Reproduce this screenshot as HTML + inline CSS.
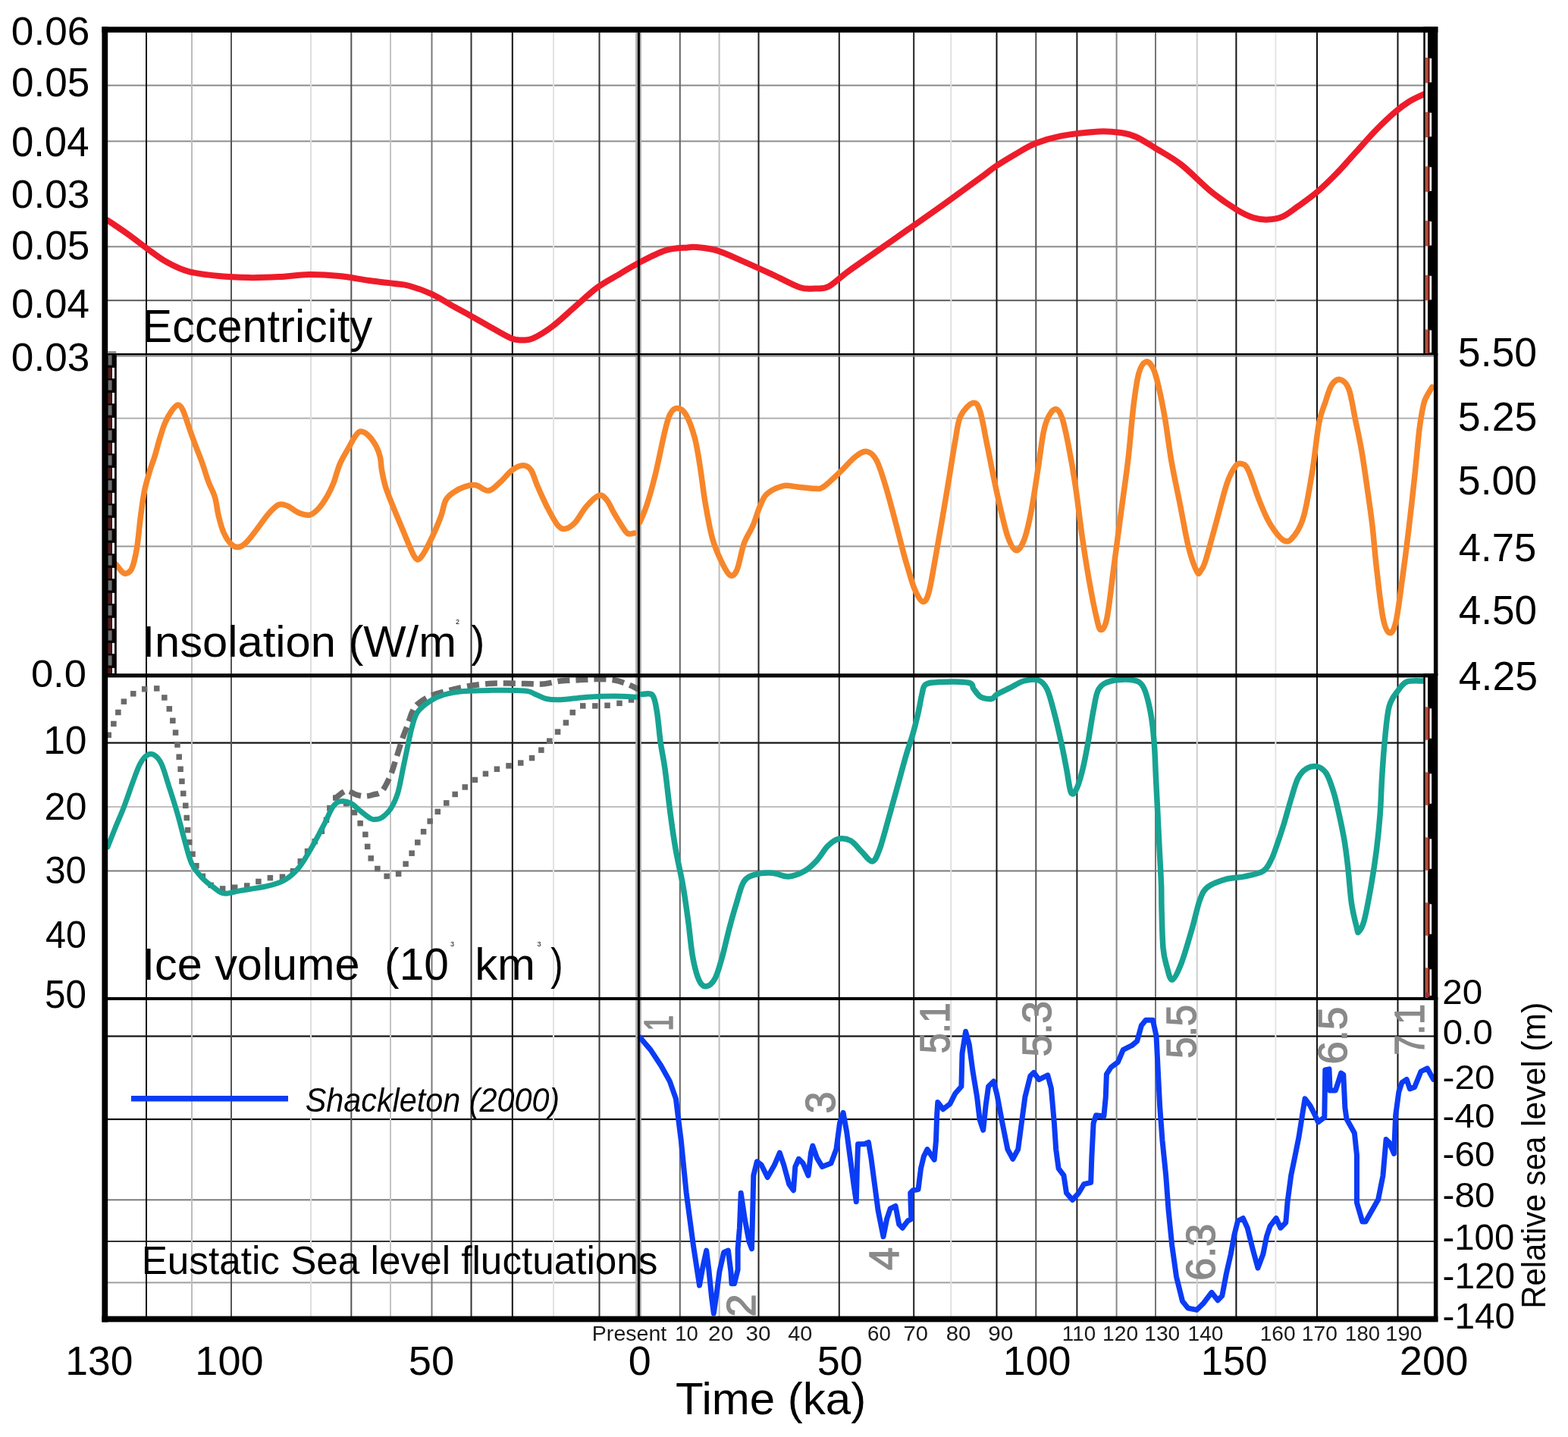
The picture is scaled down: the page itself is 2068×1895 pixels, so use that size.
<!DOCTYPE html><html><head><meta charset="utf-8"><title>Orbital forcing, ice volume and sea level</title><style>html,body{margin:0;padding:0;background:#fff;}svg{display:block;}text{font-family:"Liberation Sans",Arial,sans-serif;}</style></head><body>
<svg width="2068" height="1895" viewBox="0 0 2068 1895">
<rect width="2068" height="1895" fill="#fff"/>
<rect x="142" y="111.6" width="1736" height="2" fill="#8a8a8a"/>
<rect x="142" y="185.3" width="1736" height="2" fill="#8f8f8f"/>
<rect x="142" y="324.3" width="1736" height="2" fill="#8a8a8a"/>
<rect x="142" y="395.2" width="1736" height="2" fill="#5a5a5a"/>
<rect x="153" y="550.6" width="1738" height="2" fill="#b0b0b0"/>
<rect x="153" y="719.5" width="1738" height="2" fill="#989898"/>
<rect x="142" y="978.5" width="1736" height="2.2" fill="#111"/>
<rect x="142" y="1063" width="1736" height="2" fill="#c0c0c0"/>
<rect x="142" y="1147.5" width="1736" height="2" fill="#7a7a7a"/>
<rect x="142" y="1365.4" width="1749" height="2.2" fill="#111"/>
<rect x="142" y="1474.9" width="1749" height="2.2" fill="#111"/>
<rect x="142" y="1581.3" width="1749" height="2" fill="#7a7a7a"/>
<rect x="142" y="1636" width="1749" height="2" fill="#333"/>
<rect x="142" y="1690.4" width="1749" height="2" fill="#a0a0a0"/>
<rect x="192" y="43" width="2" height="1693" fill="#111"/>
<rect x="252" y="43" width="2" height="1693" fill="#bdbdbd"/>
<rect x="304" y="43" width="2" height="1693" fill="#555"/>
<rect x="409" y="43" width="2" height="1693" fill="#dedede"/>
<rect x="462.3" y="43" width="2" height="1693" fill="#555"/>
<rect x="514" y="43" width="2" height="1693" fill="#c4c4c4"/>
<rect x="568.5" y="43" width="2" height="1693" fill="#7a7a7a"/>
<rect x="620.5" y="43" width="2" height="1693" fill="#333"/>
<rect x="674.8" y="43" width="2" height="1693" fill="#151515"/>
<rect x="729" y="43" width="2" height="1693" fill="#e2e2e2"/>
<rect x="789.5" y="43" width="2" height="1693" fill="#333"/>
<rect x="895.8" y="43" width="2" height="1693" fill="#666"/>
<rect x="947.6" y="43" width="2" height="1693" fill="#bdbdbd"/>
<rect x="999.5" y="43" width="2" height="1693" fill="#222"/>
<rect x="1105.8" y="43" width="2" height="1693" fill="#222"/>
<rect x="1204.2" y="43" width="2" height="1693" fill="#222"/>
<rect x="1253.2" y="43" width="2" height="1693" fill="#e0e0e0"/>
<rect x="1313.5" y="43" width="2" height="1693" fill="#111"/>
<rect x="1365.3" y="43" width="2" height="1693" fill="#555"/>
<rect x="1419.4" y="43" width="2" height="1693" fill="#222"/>
<rect x="1471.6" y="43" width="2" height="1693" fill="#888"/>
<rect x="1523" y="43" width="2" height="1693" fill="#777"/>
<rect x="1577.8" y="43" width="2" height="1693" fill="#cfcfcf"/>
<rect x="1629.4" y="43" width="2" height="1693" fill="#111"/>
<rect x="1681.4" y="43" width="2" height="1693" fill="#e4e4e4"/>
<rect x="1736" y="43" width="2" height="1693" fill="#111"/>
<rect x="1842.5" y="43" width="2" height="1693" fill="#111"/>
<rect x="838.2" y="43" width="7.6" height="1693" fill="#ababab"/>
<g fill="none" stroke-linejoin="round" stroke-linecap="round">
<path d="M142.3,290.7 C146.87,293.83 161.17,303.38 169.7,309.5 C178.23,315.62 185.23,321.45 193.5,327.4 C201.77,333.35 210.05,340.08 219.3,345.2 C228.55,350.32 237.43,354.95 249,358.1 C260.57,361.25 275.47,362.77 288.7,364.1 C301.93,365.43 315.18,365.93 328.4,366.1 C341.62,366.27 354.77,365.77 368,365.1 C381.23,364.43 394.55,362.27 407.8,362.1 C421.05,361.93 434.28,362.78 447.5,364.1 C460.72,365.42 475.02,368.35 487.1,370 C499.18,371.65 511.22,372.83 520,374 C528.78,375.17 531.53,374.68 539.8,377 C548.07,379.32 559.67,383.27 569.6,387.9 C579.53,392.53 590.8,400 599.4,404.8 C608,409.6 612.93,412.08 621.2,416.7 C629.47,421.32 640.07,427.55 649,432.5 C657.93,437.45 668.18,443.75 674.8,446.4 C681.42,449.05 684.08,448.4 688.7,448.4 C693.32,448.4 695.9,449.37 702.5,446.4 C709.1,443.43 719.05,437.53 728.3,430.6 C737.55,423.67 748.07,413.4 758,404.8 C767.93,396.2 777.97,386.28 787.9,379 C797.83,371.72 808.68,366.4 817.6,361.1 C826.52,355.8 831.48,352.32 841.4,347.2 C851.32,342.08 866.18,333.87 877.1,330.4 C888.02,326.93 899.95,327.13 906.9,326.4 C913.85,325.67 912.35,325.33 918.8,326 C925.25,326.67 935.5,327.35 945.6,330.4 C955.7,333.45 967.17,339.02 979.4,344.3 C991.63,349.58 1006.43,356.32 1019,362.1 C1031.57,367.88 1045.53,375.95 1054.8,379 C1064.07,382.05 1068.32,380.57 1074.6,380.4 C1080.88,380.23 1085.22,381.7 1092.5,378 C1099.78,374.3 1107.38,366.13 1118.3,358.2 C1129.22,350.27 1144.78,339.67 1158,330.4 C1171.22,321.13 1184.38,311.87 1197.6,302.6 C1210.82,293.33 1224.07,284.23 1237.3,274.8 C1250.53,265.37 1266.75,253.43 1277,246 C1287.25,238.57 1292.68,234.7 1298.8,230.2 C1304.92,225.7 1306.92,223.5 1313.7,219 C1320.48,214.5 1330.9,208.15 1339.5,203.2 C1348.1,198.25 1355.38,193.27 1365.3,189.3 C1375.22,185.33 1385.1,182.05 1399,179.4 C1412.9,176.75 1435.47,174.13 1448.7,173.4 C1461.93,172.67 1470.13,173.82 1478.4,175 C1486.67,176.18 1490.7,177.08 1498.3,180.5 C1505.9,183.92 1514.08,189.42 1524,195.5 C1533.92,201.58 1545.55,207.45 1557.8,217 C1570.05,226.55 1585.27,242.87 1597.5,252.8 C1609.73,262.73 1621.97,270.9 1631.2,276.6 C1640.43,282.3 1646.07,284.83 1652.9,287 C1659.73,289.17 1665.75,289.82 1672.2,289.6 C1678.65,289.38 1685.15,288.5 1691.6,285.7 C1698.05,282.9 1703.38,278.17 1710.9,272.8 C1718.42,267.43 1728.1,260.8 1736.7,253.5 C1745.3,246.2 1753.9,237.82 1762.5,229 C1771.1,220.18 1779.7,210.07 1788.3,200.6 C1796.9,191.13 1805.5,181.02 1814.1,172.2 C1822.7,163.38 1832.38,154.15 1839.9,147.7 C1847.42,141.25 1852.97,137.37 1859.2,133.5 C1865.43,129.63 1874.28,126 1877.3,124.5" stroke="#ee1c2a" stroke-width="8"/>
<path d="M145,738 C146.42,739.17 151,742.5 153.5,745 C156,747.5 158.03,751.08 160,753 C161.97,754.92 163.02,757 165.3,756.5 C167.58,756 171.17,755.58 173.7,750 C176.23,744.42 178.53,734.53 180.5,723 C182.47,711.47 183.82,693.45 185.5,680.8 C187.18,668.15 188.63,656.93 190.6,647.1 C192.57,637.27 195.05,629.38 197.3,621.8 C199.55,614.22 201.85,608.92 204.1,601.6 C206.35,594.28 208.55,585.22 210.8,577.9 C213.05,570.58 215.07,563.6 217.6,557.7 C220.13,551.8 223.18,546.43 226,542.5 C228.82,538.57 231.97,534.38 234.5,534.1 C237.03,533.82 238.68,535.73 241.2,540.8 C243.72,545.87 246.78,556.62 249.6,564.5 C252.42,572.38 255.28,580.52 258.1,588.1 C260.92,595.68 263.7,602.13 266.5,610 C269.3,617.87 272.08,627.72 274.9,635.3 C277.72,642.88 281.15,647.92 283.4,655.5 C285.65,663.08 286.43,672.92 288.4,680.8 C290.37,688.68 292.38,696.62 295.2,702.8 C298.02,708.98 301.93,714.82 305.3,717.9 C308.67,720.98 312.03,721.85 315.4,721.3 C318.77,720.75 321.57,718.53 325.5,714.6 C329.43,710.67 334.22,703.88 339,697.7 C343.78,691.52 349.42,682.85 354.2,677.5 C358.98,672.15 363.48,667.3 367.7,665.6 C371.92,663.9 375.28,665.6 379.5,667.3 C383.72,669 388.22,673.83 393,675.8 C397.78,677.77 403.7,679.95 408.2,679.1 C412.7,678.25 416.07,674.92 420,670.7 C423.93,666.48 428.47,659.47 431.8,653.8 C435.13,648.13 437.25,643.72 440,636.7 C442.75,629.68 444.83,619.68 448.3,611.7 C451.77,603.72 457.52,594.75 460.8,588.8 C464.08,582.85 465.57,579.3 468,576 C470.43,572.7 472.43,569.3 475.4,569 C478.37,568.7 482.32,570.9 485.8,574.2 C489.28,577.5 493.68,583.95 496.3,588.8 C498.92,593.65 500.3,598.1 501.5,603.3 C502.7,608.5 502.28,613.4 503.5,620 C504.72,626.6 506.18,634.57 508.8,642.9 C511.42,651.23 515.73,661.32 519.2,670 C522.67,678.68 526.13,686.67 529.6,695 C533.07,703.33 537.27,713.67 540,720 C542.73,726.33 544.27,730 546,733 C547.73,736 548.9,737.67 550.4,738 C551.9,738.33 553.27,736.95 555,735 C556.73,733.05 558.08,731.23 560.8,726.3 C563.52,721.37 567.82,713.05 571.3,705.4 C574.78,697.75 578.93,688.03 581.7,680.4 C584.47,672.77 585.13,664.8 587.9,659.6 C590.67,654.4 594.13,652.15 598.3,649.2 C602.47,646.25 608.03,643.47 612.9,641.9 C617.77,640.33 622.28,638.93 627.5,639.8 C632.72,640.67 638.98,647.62 644.2,647.1 C649.42,646.58 653.6,641.22 658.8,636.7 C664,632.18 670.2,623.82 675.4,620 C680.6,616.18 685.83,613.8 690,613.8 C694.17,613.8 697.27,615.5 700.4,620 C703.53,624.5 705.32,632.82 708.8,640.8 C712.28,648.78 716.8,659.22 721.3,667.9 C725.8,676.58 731.63,688.03 735.8,692.9 C739.97,697.77 742.47,697.78 746.3,697.1 C750.13,696.42 754.3,693.67 758.8,688.8 C763.3,683.93 768.1,673.82 773.3,667.9 C778.5,661.98 785.48,654.68 790,653.3 C794.52,651.92 796.93,655.43 800.4,659.6 C803.87,663.77 806.63,671.35 810.8,678.3 C814.97,685.25 822.03,697.02 825.4,701.3 C828.77,705.58 829.2,703.72 831,704 C832.8,704.28 835.33,703.17 836.2,703" stroke="#f7862a" stroke-width="7.5"/>
<path d="M844,688.5 C845.55,684.62 849.82,676.07 853.3,665.2 C856.78,654.33 861.02,639.2 864.9,623.3 C868.78,607.4 873.48,582.6 876.6,569.8 C879.72,557 880.88,551.75 883.6,546.5 C886.32,541.25 889.42,538.3 892.9,538.3 C896.38,538.3 900.63,540.08 904.5,546.5 C908.37,552.92 913,565.55 916.1,576.8 C919.2,588.05 920.77,599.65 923.1,614 C925.43,628.35 927.38,646.98 930.1,662.9 C932.82,678.82 935.9,696.7 939.4,709.5 C942.9,722.3 947.22,731.55 951.1,739.7 C954.98,747.85 959.22,756.45 962.7,758.4 C966.18,760.35 968.9,758.38 972,751.4 C975.1,744.42 977.8,726.2 981.3,716.5 C984.8,706.8 989.5,701.35 993,693.2 C996.5,685.05 999.2,674.58 1002.3,667.6 C1005.4,660.62 1006.55,655.77 1011.6,651.3 C1016.65,646.83 1026,642.35 1032.6,640.8 C1039.2,639.25 1044.22,641.42 1051.2,642 C1058.18,642.58 1068.68,644.3 1074.5,644.3 C1080.32,644.3 1080.67,645.5 1086.1,642 C1091.53,638.5 1100.12,629.9 1107.1,623.3 C1114.08,616.7 1121.98,607.05 1128,602.4 C1134.02,597.75 1138.53,594.63 1143.2,595.4 C1147.87,596.17 1151.93,599.63 1156,607 C1160.07,614.37 1163.73,627.18 1167.6,639.6 C1171.47,652.02 1175.38,667.27 1179.2,681.5 C1183.02,695.73 1187.53,713.92 1190.5,725 C1193.47,736.08 1194.37,739.33 1197,748 C1199.63,756.67 1203,769.45 1206.3,777 C1209.6,784.55 1213.7,792.53 1216.8,793.3 C1219.9,794.07 1222,791.68 1224.9,781.6 C1227.8,771.52 1231.08,749.87 1234.2,732.8 C1237.32,715.73 1240.48,697.45 1243.6,679.2 C1246.72,660.95 1250.2,639.6 1252.9,623.3 C1255.6,607 1257.48,593.82 1259.8,581.4 C1262.12,568.98 1262.92,557.13 1266.8,548.8 C1270.68,540.47 1278.83,532.57 1283.1,531.4 C1287.37,530.23 1289.28,532.68 1292.4,541.8 C1295.52,550.92 1298.68,570.97 1301.8,586.1 C1304.92,601.23 1308,617.87 1311.1,632.6 C1314.2,647.33 1317.3,661.68 1320.4,674.5 C1323.5,687.32 1326.4,700.95 1329.7,709.5 C1333,718.05 1336.7,725.42 1340.2,725.8 C1343.7,726.18 1347.4,720.35 1350.7,711.8 C1354,703.25 1356.9,690.42 1360,674.5 C1363.1,658.58 1366.58,633.75 1369.3,616.3 C1372.02,598.85 1373.98,581.05 1376.3,569.8 C1378.62,558.55 1380.48,553.85 1383.2,548.8 C1385.92,543.75 1389.68,539.12 1392.6,539.5 C1395.52,539.88 1397.98,543.33 1400.7,551.1 C1403.42,558.87 1405.98,571.35 1408.9,586.1 C1411.82,600.85 1415.1,619.03 1418.2,639.6 C1421.3,660.17 1424.4,688.15 1427.5,709.5 C1430.6,730.85 1433.7,750.25 1436.8,767.7 C1439.9,785.15 1443.58,803.73 1446.1,814.2 C1448.62,824.67 1449.57,830.5 1451.9,830.5 C1454.23,830.5 1457.18,828.55 1460.1,814.2 C1463.02,799.85 1466.3,767.68 1469.4,744.4 C1472.5,721.12 1475.6,697.78 1478.7,674.5 C1481.8,651.22 1485.28,627.98 1488,604.7 C1490.72,581.42 1492.67,553.58 1495,534.8 C1497.33,516.02 1499.25,501.63 1502,492 C1504.75,482.37 1508.33,478 1511.5,477 C1514.67,476 1518.22,480.43 1521,486 C1523.78,491.57 1525.6,499.28 1528.2,510.4 C1530.8,521.52 1533.78,536.27 1536.6,552.7 C1539.42,569.13 1541.8,590.22 1545.1,609 C1548.4,627.78 1552.65,646.6 1556.4,665.4 C1560.15,684.2 1563.85,707 1567.6,721.8 C1571.35,736.6 1576.17,749.17 1578.9,754.2 C1581.63,759.23 1582.12,754.6 1584,752 C1585.88,749.4 1586.82,749.28 1590.2,738.6 C1593.58,727.92 1599.62,704.8 1604.3,687.9 C1608.98,671 1614.08,649.42 1618.3,637.2 C1622.52,624.98 1626.32,618.83 1629.6,614.6 C1632.88,610.37 1635.18,610.85 1638,611.8 C1640.82,612.75 1642.65,612.17 1646.5,620.3 C1650.35,628.43 1656.33,648.83 1661.1,660.6 C1665.87,672.37 1669.55,682.12 1675.1,690.9 C1680.65,699.68 1688.92,710.95 1694.4,713.3 C1699.88,715.65 1703.77,710.63 1708,705 C1712.23,699.37 1715.97,693.62 1719.8,679.5 C1723.63,665.38 1727.72,640.5 1731,620.3 C1734.28,600.1 1736.67,573.32 1739.5,558.3 C1742.33,543.28 1745.18,538.65 1748,530.2 C1750.82,521.75 1753.12,512.53 1756.4,507.6 C1759.68,502.67 1763.93,499.65 1767.7,500.6 C1771.47,501.55 1775.72,504.62 1779,513.3 C1782.28,521.98 1784.58,539.08 1787.4,552.7 C1790.22,566.32 1793.08,578.57 1795.9,595 C1798.72,611.43 1801.95,634.87 1804.3,651.3 C1806.65,667.73 1808.12,677.17 1810,693.6 C1811.88,710.03 1813.27,729.7 1815.6,749.9 C1817.93,770.1 1821.18,800.7 1824,814.8 C1826.82,828.9 1829.68,833.57 1832.5,834.5 C1835.32,835.43 1838.08,832.15 1840.9,820.4 C1843.72,808.65 1846.58,784.2 1849.4,764 C1852.22,743.8 1854.98,722.68 1857.8,699.2 C1860.62,675.72 1863.95,645.17 1866.3,623.1 C1868.65,601.03 1870.02,581.82 1871.9,566.8 C1873.78,551.78 1875.92,540.47 1877.6,533 C1879.28,525.53 1880.13,525.77 1882,522 C1883.87,518.23 1887.67,512.33 1888.8,510.4" stroke="#f7862a" stroke-width="7.5"/>
</g>
<g fill="#6a6a6a"><rect x="139.5" y="965.52" width="7.5" height="7.5"/><rect x="146.12" y="950.74" width="7.5" height="7.5"/><rect x="152.11" y="935.69" width="7.5" height="7.5"/><rect x="159.62" y="921.4" width="7.5" height="7.5"/><rect x="172.02" y="911.08" width="7.5" height="7.5"/><rect x="186.95" y="904.97" width="7.5" height="7.5"/><rect x="202.99" y="904.14" width="7.5" height="7.5"/><rect x="213.11" y="916.2" width="7.5" height="7.5"/><rect x="219.57" y="931.03" width="7.5" height="7.5"/><rect x="224.09" y="946.58" width="7.5" height="7.5"/><rect x="227.8" y="962.34" width="7.5" height="7.5"/><rect x="230.2" y="978.36" width="7.5" height="7.5"/><rect x="232.47" y="994.4" width="7.5" height="7.5"/><rect x="234.36" y="1010.49" width="7.5" height="7.5"/><rect x="236.17" y="1026.59" width="7.5" height="7.5"/><rect x="238.02" y="1042.68" width="7.5" height="7.5"/><rect x="241.01" y="1058.6" width="7.5" height="7.5"/><rect x="242.48" y="1074.73" width="7.5" height="7.5"/><rect x="243.89" y="1090.87" width="7.5" height="7.5"/><rect x="245.97" y="1106.93" width="7.5" height="7.5"/><rect x="250.25" y="1122.54" width="7.5" height="7.5"/><rect x="255.13" y="1137.98" width="7.5" height="7.5"/><rect x="263.58" y="1151.74" width="7.5" height="7.5"/><rect x="274.5" y="1163.63" width="7.5" height="7.5"/><rect x="289.88" y="1168.18" width="7.5" height="7.5"/><rect x="305.91" y="1166.51" width="7.5" height="7.5"/><rect x="321.95" y="1164.28" width="7.5" height="7.5"/><rect x="337.15" y="1158.74" width="7.5" height="7.5"/><rect x="352.61" y="1153.94" width="7.5" height="7.5"/><rect x="368.72" y="1152.56" width="7.5" height="7.5"/><rect x="382.77" y="1144.95" width="7.5" height="7.5"/><rect x="392.52" y="1132.09" width="7.5" height="7.5"/><rect x="401.76" y="1118.78" width="7.5" height="7.5"/><rect x="411.49" y="1105.83" width="7.5" height="7.5"/><rect x="420.61" y="1092.45" width="7.5" height="7.5"/><rect x="426.73" y="1077.51" width="7.5" height="7.5"/><rect x="431.09" y="1061.91" width="7.5" height="7.5"/><rect x="439" y="1048.32" width="7.5" height="7.5"/><rect x="452.81" y="1055.84" width="7.5" height="7.5"/><rect x="463.71" y="1067.73" width="7.5" height="7.5"/><rect x="471.39" y="1081.98" width="7.5" height="7.5"/><rect x="478.12" y="1096.68" width="7.5" height="7.5"/><rect x="480.93" y="1112.63" width="7.5" height="7.5"/><rect x="485.46" y="1128.15" width="7.5" height="7.5"/><rect x="494.11" y="1141.79" width="7.5" height="7.5"/><rect x="506.4" y="1151.72" width="7.5" height="7.5"/><rect x="521.85" y="1148.57" width="7.5" height="7.5"/><rect x="531.34" y="1135.52" width="7.5" height="7.5"/><rect x="539.37" y="1121.45" width="7.5" height="7.5"/><rect x="547.04" y="1107.18" width="7.5" height="7.5"/><rect x="554.82" y="1092.97" width="7.5" height="7.5"/><rect x="563.39" y="1079.23" width="7.5" height="7.5"/><rect x="573.52" y="1066.61" width="7.5" height="7.5"/><rect x="585.01" y="1055.19" width="7.5" height="7.5"/><rect x="596.42" y="1043.69" width="7.5" height="7.5"/><rect x="609.54" y="1034.21" width="7.5" height="7.5"/><rect x="622.65" y="1024.69" width="7.5" height="7.5"/><rect x="636.69" y="1016.63" width="7.5" height="7.5"/><rect x="651.66" y="1010.47" width="7.5" height="7.5"/><rect x="667.25" y="1006.1" width="7.5" height="7.5"/><rect x="683" y="1002.34" width="7.5" height="7.5"/><rect x="697.79" y="995.86" width="7.5" height="7.5"/><rect x="710.13" y="985.4" width="7.5" height="7.5"/><rect x="721.02" y="973.41" width="7.5" height="7.5"/><rect x="731.84" y="961.36" width="7.5" height="7.5"/><rect x="742.64" y="949.29" width="7.5" height="7.5"/><rect x="751.5" y="935.82" width="7.5" height="7.5"/><rect x="765" y="927.11" width="7.5" height="7.5"/><rect x="781.11" y="927.15" width="7.5" height="7.5"/><rect x="797.29" y="926.51" width="7.5" height="7.5"/><rect x="813.22" y="923.63" width="7.5" height="7.5"/><rect x="828.81" y="919.23" width="7.5" height="7.5"/></g>
<g fill="none" stroke-linejoin="round" stroke-linecap="round">
<path d="M441,1054 C442.83,1052.5 449,1046.83 452,1045 C455,1043.17 456,1042.5 459,1043 C462,1043.5 466.25,1046.83 470,1048 C473.75,1049.17 477.83,1050 481.5,1050 C485.17,1050 488.25,1049.17 492,1048 C495.75,1046.83 500.12,1047.4 504,1043 C507.88,1038.6 512.23,1028.7 515.3,1021.6 C518.37,1014.5 519.85,1008.25 522.4,1000.4 C524.95,992.55 528.05,981.95 530.6,974.5 C533.15,967.05 535.53,961.58 537.7,955.7 C539.87,949.82 541.43,943.72 543.6,939.2 C545.77,934.68 546.77,932.13 550.7,928.6 C554.63,925.07 560.53,920.95 567.2,918 C573.87,915.05 582.47,913.07 590.7,910.9 C598.93,908.73 607.57,906.57 616.6,905 C625.63,903.43 636.25,902.17 644.9,901.5 C653.55,900.83 660.65,901 668.5,901 C676.35,901 684.15,901.33 692,901.5 C699.85,901.67 707.75,902.58 715.6,902 C723.45,901.42 731.25,898.87 739.1,898 C746.95,897.13 754.85,897.2 762.7,896.8 C770.55,896.4 778.35,895.6 786.2,895.6 C794.05,895.6 802.73,895.62 809.8,896.8 C816.87,897.98 823.23,900.67 828.6,902.7 C833.97,904.73 839.77,907.95 842,909" stroke="#6a6a6a" stroke-width="7.5" stroke-dasharray="16 8" stroke-linecap="butt"/>
<path d="M142,1117 C143.63,1112.87 148.22,1101.03 151.8,1092.2 C155.38,1083.37 159.58,1074.2 163.5,1064 C167.42,1053.8 171.77,1040.43 175.3,1031 C178.83,1021.57 181.55,1013.28 184.7,1007.4 C187.85,1001.52 191.05,997.65 194.2,995.7 C197.35,993.75 200.47,993.75 203.6,995.7 C206.73,997.65 209.87,1000.73 213,1007.4 C216.13,1014.07 218.87,1024.7 222.4,1035.7 C225.93,1046.7 230.67,1061.23 234.2,1073.4 C237.73,1085.57 240.47,1097.72 243.6,1108.7 C246.73,1119.68 249.08,1131.07 253,1139.3 C256.92,1147.53 262.38,1153 267.1,1158.1 C271.82,1163.2 276.58,1166.57 281.3,1169.9 C286.02,1173.23 289.52,1177.32 295.4,1178.1 C301.28,1178.88 307.18,1176.17 316.6,1174.6 C326.02,1173.03 342.08,1171.05 351.9,1168.7 C361.72,1166.35 368.43,1164.62 375.5,1160.5 C382.57,1156.38 388.42,1151.07 394.3,1144 C400.18,1136.93 405.3,1127.52 410.8,1118.1 C416.3,1108.68 422.6,1096.52 427.3,1087.5 C432,1078.48 435.47,1069.1 439,1064 C442.53,1058.9 444.57,1057.7 448.5,1056.9 C452.43,1056.1 458.28,1057.23 462.6,1059.2 C466.92,1061.17 470.08,1065.35 474.4,1068.7 C478.72,1072.05 485.07,1077.33 488.5,1079.3 C491.93,1081.27 492.48,1080.68 495,1080.5 C497.52,1080.32 500.22,1080.55 503.6,1078.2 C506.98,1075.85 511.77,1071.9 515.3,1066.4 C518.83,1060.9 522.05,1054.23 524.8,1045.2 C527.55,1036.17 529.65,1022.42 531.8,1012.2 C533.95,1001.98 535.73,992.93 537.7,983.9 C539.67,974.87 541.43,965.48 543.6,958 C545.77,950.52 546.77,944.58 550.7,939 C554.63,933.42 561.32,928.33 567.2,924.5 C573.08,920.67 578.55,918.17 586,916 C593.45,913.83 602.08,912.43 611.9,911.5 C621.72,910.57 631.55,910.5 644.9,910.4 C658.25,910.3 681.8,910.03 692,910.9 C702.2,911.77 701.38,913.83 706.1,915.6 C710.82,917.37 714.8,920.32 720.3,921.5 C725.8,922.68 730.07,923.08 739.1,922.7 C748.13,922.32 762.72,919.98 774.5,919.2 C786.28,918.42 798.82,918 809.8,918 C820.78,918 835.3,919 840.4,919.2" stroke="#17a392" stroke-width="7"/>
<path d="M846.5,915.6 C848.85,915.8 857.27,912.87 860.6,916.8 C863.93,920.73 864.73,928.8 866.5,939.2 C868.27,949.6 869.43,966.63 871.2,979.2 C872.97,991.77 874.93,998.88 877.1,1014.6 C879.27,1030.32 881.85,1055.83 884.2,1073.5 C886.55,1091.17 888.45,1104.9 891.2,1120.6 C893.95,1136.3 897.95,1152 900.7,1167.7 C903.45,1183.4 905.55,1199.1 907.7,1214.8 C909.85,1230.5 911.23,1248.95 913.6,1261.9 C915.97,1274.85 918.95,1286.02 921.9,1292.5 C924.85,1298.98 927.77,1301.18 931.3,1300.8 C934.83,1300.42 939.57,1296.68 943.1,1290.2 C946.63,1283.72 949.37,1272.9 952.5,1261.9 C955.63,1250.9 958.77,1235.98 961.9,1224.2 C965.03,1212.42 968.15,1201.4 971.3,1191.2 C974.45,1181 976.87,1169.27 980.8,1163 C984.73,1156.73 988.62,1155.57 994.9,1153.6 C1001.18,1151.63 1011.03,1150.82 1018.5,1151.2 C1025.97,1151.58 1032.63,1156.3 1039.7,1155.9 C1046.77,1155.5 1054.63,1152.33 1060.9,1148.8 C1067.17,1145.27 1072.2,1140.18 1077.3,1134.7 C1082.4,1129.22 1086.78,1120.62 1091.5,1115.9 C1096.22,1111.18 1100.5,1107.58 1105.6,1106.4 C1110.7,1105.22 1117,1106.05 1122.1,1108.8 C1127.2,1111.55 1131.48,1118.38 1136.2,1122.9 C1140.92,1127.42 1146.47,1136.28 1150.4,1135.9 C1154.33,1135.52 1156.27,1129.83 1159.8,1120.6 C1163.33,1111.37 1167.67,1094.25 1171.6,1080.5 C1175.53,1066.75 1179.48,1052.23 1183.4,1038.1 C1187.32,1023.97 1191.65,1007.48 1195.1,995.7 C1198.55,983.92 1201.42,976.82 1204.1,967.4 C1206.78,957.98 1209.23,947.83 1211.2,939.2 C1213.17,930.57 1214.33,921.68 1215.9,915.6 C1217.47,909.52 1217.07,905.37 1220.6,902.7 C1224.13,900.03 1227.67,900 1237.1,899.6 C1246.53,899.2 1269.35,898.8 1277.2,900.3 C1285.05,901.8 1281.45,905.45 1284.2,908.6 C1286.95,911.75 1289.77,917.05 1293.7,919.2 C1297.63,921.35 1304.27,922.1 1307.8,921.5 C1311.33,920.9 1310.98,917.95 1314.9,915.6 C1318.82,913.25 1325.42,910.33 1331.3,907.4 C1337.18,904.47 1343.92,899.77 1350.2,898 C1356.48,896.23 1363.9,895.03 1369,896.8 C1374.1,898.57 1377.27,901.53 1380.8,908.6 C1384.33,915.67 1387.05,927.43 1390.2,939.2 C1393.35,950.97 1396.95,966.63 1399.7,979.2 C1402.45,991.77 1404.55,1003.6 1406.7,1014.6 C1408.85,1025.6 1410.43,1040.88 1412.6,1045.2 C1414.77,1049.52 1417.15,1045.6 1419.7,1040.5 C1422.25,1035.4 1425.35,1024.82 1427.9,1014.6 C1430.45,1004.38 1432.63,992.17 1435,979.2 C1437.37,966.23 1439.75,948.57 1442.1,936.8 C1444.45,925.03 1445.18,915.07 1449.1,908.6 C1453.02,902.13 1458.13,899.97 1465.6,898 C1473.07,896.03 1486.83,895.43 1493.9,896.8 C1500.97,898.17 1504.08,899.13 1508,906.2 C1511.92,913.27 1515.03,927.03 1517.4,939.2 C1519.77,951.37 1521.02,964.68 1522.2,979.2 C1523.38,993.72 1523.72,1010.58 1524.5,1026.3 C1525.28,1042.02 1526.12,1057.78 1526.9,1073.5 C1527.68,1089.22 1528.42,1104.9 1529.2,1120.6 C1529.98,1136.3 1531.13,1154.88 1531.6,1167.7 C1532.07,1180.52 1531.6,1183.78 1532,1197.5 C1532.4,1211.22 1532.83,1237.08 1534,1250 C1535.17,1262.92 1537,1268 1539,1275 C1541,1282 1542.83,1292.77 1546,1292 C1549.17,1291.23 1553.67,1281.52 1558,1270.4 C1562.33,1259.28 1567.93,1239.2 1572,1225.3 C1576.07,1211.4 1578.93,1196.27 1582.4,1187 C1585.87,1177.73 1587.03,1174.32 1592.8,1169.7 C1598.57,1165.08 1608.9,1161.62 1617,1159.3 C1625.1,1156.98 1633.28,1157.53 1641.4,1155.8 C1649.52,1154.07 1659.93,1152.37 1665.7,1148.9 C1671.47,1145.43 1673.02,1140.53 1676,1135 C1678.98,1129.47 1680.77,1123.62 1683.6,1115.7 C1686.43,1107.78 1689.85,1097.7 1693,1087.5 C1696.15,1077.3 1699.35,1064.7 1702.5,1054.5 C1705.65,1044.3 1708.37,1033.17 1711.9,1026.3 C1715.43,1019.43 1719.38,1015.85 1723.7,1013.3 C1728.02,1010.75 1733.48,1009.82 1737.8,1011 C1742.12,1012.18 1746.07,1014.72 1749.6,1020.4 C1753.13,1026.08 1756.27,1036.27 1759,1045.1 C1761.73,1053.93 1763.65,1062.8 1766,1073.4 C1768.35,1084 1771.13,1096.93 1773.1,1108.7 C1775.07,1120.47 1776.23,1130.27 1777.8,1144 C1779.37,1157.73 1780.53,1177.75 1782.5,1191.1 C1784.47,1204.45 1788.03,1217.82 1789.6,1224.1 C1791.17,1230.38 1790.33,1230.38 1791.9,1228.8 C1793.47,1227.22 1796.25,1224.8 1799,1214.6 C1801.75,1204.4 1805.65,1183.28 1808.4,1167.6 C1811.15,1151.92 1813.53,1136.2 1815.5,1120.5 C1817.47,1104.8 1819.02,1089.1 1820.2,1073.4 C1821.38,1057.7 1821.62,1042 1822.6,1026.3 C1823.58,1010.6 1824.53,994.9 1826.1,979.2 C1827.67,963.5 1829.07,943.48 1832,932.1 C1834.93,920.72 1839.78,916.4 1843.7,910.9 C1847.62,905.4 1850,901.25 1855.5,899.1 C1861,896.95 1873.17,898.18 1876.7,898" stroke="#17a392" stroke-width="7.5"/>
<path d="M844.2,1368.3 L858,1384.4 L871.8,1405.2 L883.3,1425.9 L891.4,1448.9 L894.8,1476.5 L898.3,1504.1 L901.7,1538.6 L905.2,1573.2 L909.8,1607.7 L914.4,1642.2 L919,1672.1 L922.5,1695.1 L927.1,1669.8 L931.7,1649.1 L935.1,1676.7 L938.6,1711.3 L941.3,1732 L945,1706.6 L948.9,1676.7 L954.7,1651.4 L960.4,1649.1 L963.9,1676.7 L965,1692.8 L968.5,1692.8 L973.1,1674.4 L973.1,1646.8 L975.4,1619.2 L977.2,1573.2 L982.3,1607.7 L988,1637.6 L991.5,1646.8 L992.7,1596.2 L993.8,1550.2 L998.4,1531.7 L1004.2,1536.3 L1012.2,1552.5 L1021.4,1536.3 L1028.3,1520.2 L1033.8,1536.3 L1040.7,1561.7 L1046.5,1569.7 L1048.8,1538.6 L1053.4,1528.3 L1059.1,1534 L1066,1550.2 L1069.5,1520.2 L1071.8,1511 L1077.5,1527.1 L1084.4,1538.6 L1096,1534 L1102.9,1515.6 L1107.5,1481.1 L1112.1,1467.3 L1116.7,1492.6 L1121.3,1527.1 L1125.9,1561.7 L1129.3,1584.7 L1130.5,1538.6 L1131.6,1508.7 L1139.7,1508.7 L1145.4,1506.4 L1148.9,1527.1 L1153.5,1561.7 L1158.1,1596.2 L1165,1630.7 L1169.6,1607.7 L1174.2,1593.9 L1181.1,1590.4 L1185.7,1614.6 L1190.3,1619.2 L1197.2,1610 L1201.8,1607.7 L1200.7,1573.2 L1204.1,1569.7 L1211,1568.6 L1214.5,1540.9 L1218.4,1524.8 L1223,1515.6 L1227.6,1522.5 L1232.2,1529.4 L1234.5,1504.1 L1235.7,1469.6 L1236.8,1453.5 L1243.7,1462.7 L1252.9,1455.8 L1259.8,1442 L1267.9,1432.8 L1269,1389 L1273.6,1360.3 L1278.3,1377.5 L1282.9,1412.1 L1288.6,1446.6 L1292.1,1476.5 L1296.7,1490.3 L1300.1,1458.1 L1303.6,1432.8 L1310.5,1425.9 L1315.1,1444.3 L1322,1481.1 L1328.9,1515.6 L1335.8,1528.3 L1342.7,1515.6 L1347.3,1481.1 L1351.9,1446.6 L1358.8,1419 L1363.4,1414.4 L1370.3,1423.6 L1381.8,1417.8 L1386.4,1435.1 L1390.4,1481.1 L1392.7,1515.6 L1396.1,1540.9 L1403,1550.2 L1406.5,1573.2 L1414.5,1582.4 L1422.6,1573.2 L1429.5,1561.7 L1438.7,1559.4 L1439.8,1527.1 L1442.1,1481.1 L1445.6,1470.7 L1455.9,1471.9 L1458.3,1446.6 L1459.4,1416.7 L1465.2,1407.5 L1474.4,1400.6 L1481.3,1384.4 L1492.8,1378.7 L1499.7,1372.9 L1505.4,1352.2 L1511.2,1345.3 L1520.4,1345.3 L1525,1366 L1527.3,1412.1 L1529.6,1458.1 L1533,1504.1 L1537.7,1550.2 L1541.1,1596.2 L1545.7,1642.2 L1551.5,1683.6 L1559.5,1715.9 L1566.9,1725.1 L1578.4,1727.4 L1587.6,1718.2 L1598,1704.4 L1606,1714.7 L1611.8,1708.9 L1617.5,1679 L1623.3,1653.7 L1627.9,1628.4 L1632.5,1610 L1639.4,1606.5 L1645.2,1619.2 L1652.1,1646.8 L1659,1672.1 L1665.9,1653.7 L1670.5,1630.7 L1675.1,1616.9 L1683.1,1606.5 L1688.9,1619.2 L1695.8,1612.3 L1698.1,1584.7 L1702.7,1550.2 L1708.4,1522.5 L1713,1499.5 L1717.7,1469.6 L1721.1,1448.9 L1728,1458.1 L1734.1,1470.2 L1738.5,1479.7 L1746.8,1473.4 L1747.8,1410.9 L1753,1409.9 L1754.1,1438 L1761.4,1438 L1768.7,1415.1 L1771.8,1417.1 L1773.9,1460.9 L1776,1475.5 L1786.4,1494.3 L1789.5,1523.5 L1789.5,1586 L1796.8,1611 L1801,1611 L1817.7,1581.8 L1823.9,1550.6 L1828.1,1502.6 L1832.3,1506.8 L1838.5,1521.4 L1840.6,1471.3 L1844.8,1440.1 L1848.9,1427.6 L1855.2,1423.4 L1859.4,1435.9 L1865.6,1433.8 L1874,1413 L1882.3,1408.8 L1890.6,1423.4" stroke="#0b3cf5" stroke-width="7"/>
</g>
<rect x="173" y="1445" width="207" height="7.5" fill="#0b3cf5"/>
<rect x="134.4" y="35.3" width="1762" height="7.6" fill="#000"/>
<rect x="134.4" y="35.3" width="7.8" height="1708.2" fill="#000"/>
<rect x="134.4" y="1735.6" width="1762" height="7.8" fill="#000"/>
<rect x="142" y="465.9" width="1736" height="2.6" fill="#000"/>
<rect x="153" y="468.5" width="1738" height="2" fill="#8c8c8c"/>
<rect x="142" y="888.3" width="1749" height="2.6" fill="#000"/>
<rect x="142" y="890.9" width="1736" height="2.5" fill="#000"/>
<rect x="142" y="1315" width="1749" height="4" fill="#000"/>
<rect x="1877.3" y="35.3" width="19" height="433" fill="#000"/>
<rect x="1879.8" y="43" width="3.2" height="423" fill="#fff"/>
<rect x="1879.8" y="76" width="5.5" height="33.5" fill="#b4513a"/>
<rect x="1883.5" y="76" width="1.8" height="33.5" fill="#5a0a0a"/>
<rect x="1885.5" y="77" width="2.6" height="31.5" fill="#fff"/>
<rect x="1879.8" y="147.7" width="5.5" height="33.5" fill="#b4513a"/>
<rect x="1883.5" y="147.7" width="1.8" height="33.5" fill="#5a0a0a"/>
<rect x="1885.5" y="148.7" width="2.6" height="31.5" fill="#fff"/>
<rect x="1879.8" y="219.4" width="5.5" height="33.5" fill="#b4513a"/>
<rect x="1883.5" y="219.4" width="1.8" height="33.5" fill="#5a0a0a"/>
<rect x="1885.5" y="220.4" width="2.6" height="31.5" fill="#fff"/>
<rect x="1879.8" y="291.1" width="5.5" height="33.5" fill="#b4513a"/>
<rect x="1883.5" y="291.1" width="1.8" height="33.5" fill="#5a0a0a"/>
<rect x="1885.5" y="292.1" width="2.6" height="31.5" fill="#fff"/>
<rect x="1879.8" y="362.8" width="5.5" height="33.5" fill="#b4513a"/>
<rect x="1883.5" y="362.8" width="1.8" height="33.5" fill="#5a0a0a"/>
<rect x="1885.5" y="363.8" width="2.6" height="31.5" fill="#fff"/>
<rect x="1879.8" y="434.5" width="5.5" height="31.5" fill="#b4513a"/>
<rect x="1883.5" y="434.5" width="1.8" height="31.5" fill="#5a0a0a"/>
<rect x="1885.5" y="435.5" width="2.6" height="29.5" fill="#fff"/>
<rect x="1890.9" y="466" width="5.5" height="425" fill="#000"/>
<rect x="1877.3" y="888.3" width="19" height="430" fill="#000"/>
<rect x="1879.8" y="893.4" width="3.3" height="422" fill="#fff"/>
<rect x="1879.8" y="932.3" width="5.2" height="43.5" fill="#b4513a"/>
<rect x="1883.5" y="932.3" width="1.8" height="43.5" fill="#5a0a0a"/>
<rect x="1885.5" y="934.3" width="2.6" height="39.5" fill="#fff"/>
<rect x="1879.8" y="1018.3" width="5.2" height="43.5" fill="#b4513a"/>
<rect x="1883.5" y="1018.3" width="1.8" height="43.5" fill="#5a0a0a"/>
<rect x="1885.5" y="1020.3" width="2.6" height="39.5" fill="#fff"/>
<rect x="1879.8" y="1104.3" width="5.2" height="43.5" fill="#b4513a"/>
<rect x="1883.5" y="1104.3" width="1.8" height="43.5" fill="#5a0a0a"/>
<rect x="1885.5" y="1106.3" width="2.6" height="39.5" fill="#fff"/>
<rect x="1879.8" y="1190.3" width="5.2" height="43.5" fill="#b4513a"/>
<rect x="1883.5" y="1190.3" width="1.8" height="43.5" fill="#5a0a0a"/>
<rect x="1885.5" y="1192.3" width="2.6" height="39.5" fill="#fff"/>
<rect x="1879.8" y="1276.3" width="5.2" height="38.7" fill="#b4513a"/>
<rect x="1883.5" y="1276.3" width="1.8" height="38.7" fill="#5a0a0a"/>
<rect x="1885.5" y="1278.3" width="2.6" height="34.7" fill="#fff"/>
<rect x="1890.9" y="1315" width="5.5" height="428" fill="#000"/>
<rect x="1880.5" y="1309" width="5" height="6" fill="#a0303a"/>
<rect x="841" y="43" width="2.9" height="1693" fill="#000"/>
<rect x="142" y="466" width="11.5" height="423" fill="#0a0505"/>
<rect x="142.3" y="463.2" width="10.9" height="2.7" fill="#8a8a8a"/>
<rect x="142.6" y="468.4" width="5" height="13.2" fill="#6d6d6d"/>
<rect x="142.3" y="484.9" width="5.3" height="14.3" fill="#4e1c1c"/>
<rect x="148" y="484.9" width="3" height="14.3" fill="#fff"/>
<rect x="142.6" y="501.4" width="5" height="13.2" fill="#6d6d6d"/>
<rect x="142.3" y="517.9" width="5.3" height="14.3" fill="#4e1c1c"/>
<rect x="148" y="517.9" width="3" height="14.3" fill="#fff"/>
<rect x="142.6" y="534.4" width="5" height="13.2" fill="#6d6d6d"/>
<rect x="142.3" y="550.9" width="5.3" height="14.3" fill="#4e1c1c"/>
<rect x="148" y="550.9" width="3" height="14.3" fill="#fff"/>
<rect x="142.6" y="567.4" width="5" height="13.2" fill="#6d6d6d"/>
<rect x="142.3" y="583.9" width="5.3" height="14.3" fill="#4e1c1c"/>
<rect x="148" y="583.9" width="3" height="14.3" fill="#fff"/>
<rect x="142.6" y="600.4" width="5" height="13.2" fill="#6d6d6d"/>
<rect x="142.3" y="616.9" width="5.3" height="14.3" fill="#4e1c1c"/>
<rect x="148" y="616.9" width="3" height="14.3" fill="#fff"/>
<rect x="142.6" y="633.4" width="5" height="13.2" fill="#6d6d6d"/>
<rect x="142.3" y="649.9" width="5.3" height="14.3" fill="#4e1c1c"/>
<rect x="148" y="649.9" width="3" height="14.3" fill="#fff"/>
<rect x="142.6" y="666.4" width="5" height="13.2" fill="#6d6d6d"/>
<rect x="142.3" y="682.9" width="5.3" height="14.3" fill="#4e1c1c"/>
<rect x="148" y="682.9" width="3" height="14.3" fill="#fff"/>
<rect x="142.6" y="699.4" width="5" height="13.2" fill="#6d6d6d"/>
<rect x="142.3" y="715.9" width="5.3" height="14.3" fill="#4e1c1c"/>
<rect x="148" y="715.9" width="3" height="14.3" fill="#fff"/>
<rect x="142.6" y="732.4" width="5" height="13.2" fill="#6d6d6d"/>
<rect x="142.3" y="748.9" width="5.3" height="14.3" fill="#4e1c1c"/>
<rect x="148" y="748.9" width="3" height="14.3" fill="#fff"/>
<rect x="142.6" y="765.4" width="5" height="13.2" fill="#6d6d6d"/>
<rect x="142.3" y="781.9" width="5.3" height="14.3" fill="#4e1c1c"/>
<rect x="148" y="781.9" width="3" height="14.3" fill="#fff"/>
<rect x="142.6" y="798.4" width="5" height="13.2" fill="#6d6d6d"/>
<rect x="142.3" y="814.9" width="5.3" height="14.3" fill="#4e1c1c"/>
<rect x="148" y="814.9" width="3" height="14.3" fill="#fff"/>
<rect x="142.6" y="831.4" width="5" height="13.2" fill="#6d6d6d"/>
<rect x="142.3" y="847.9" width="5.3" height="14.3" fill="#4e1c1c"/>
<rect x="148" y="847.9" width="3" height="14.3" fill="#fff"/>
<rect x="142.6" y="864.4" width="5" height="13.2" fill="#6d6d6d"/>
<rect x="142.3" y="880.9" width="5.3" height="7.1" fill="#4e1c1c"/>
<rect x="148" y="880.9" width="3" height="7.1" fill="#fff"/>
<rect x="151.2" y="468" width="2.4" height="421" fill="#000"/>
<text x="14.87" y="58.77" font-size="52.58" textLength="103.46" lengthAdjust="spacingAndGlyphs" fill="#000">0.06</text>
<text x="14.88" y="127.36" font-size="53.99" textLength="103.32" lengthAdjust="spacingAndGlyphs" fill="#000">0.05</text>
<text x="14.89" y="206.05" font-size="55.12" textLength="102.63" lengthAdjust="spacingAndGlyphs" fill="#000">0.04</text>
<text x="14.87" y="274.47" font-size="52.58" textLength="103.46" lengthAdjust="spacingAndGlyphs" fill="#000">0.03</text>
<text x="14.88" y="341.96" font-size="54.42" textLength="103.32" lengthAdjust="spacingAndGlyphs" fill="#000">0.05</text>
<text x="14.89" y="418.97" font-size="53" fill="#000">0.04</text>
<text x="14.87" y="489.48" font-size="51.59" textLength="103.46" lengthAdjust="spacingAndGlyphs" fill="#000">0.03</text>
<text x="40.9" y="906.2" font-size="49.75" textLength="73.08" lengthAdjust="spacingAndGlyphs" fill="#000">0.0</text>
<text x="57.17" y="993.98" font-size="51.59" fill="#000">10</text>
<text x="58.51" y="1081.1" font-size="50.32" fill="#000">20</text>
<text x="59.15" y="1164.5" font-size="49.89" textLength="54.81" lengthAdjust="spacingAndGlyphs" fill="#000">30</text>
<text x="59.91" y="1249.51" font-size="49.47" textLength="54.03" lengthAdjust="spacingAndGlyphs" fill="#000">40</text>
<text x="59.02" y="1329.48" font-size="51.73" textLength="54.94" lengthAdjust="spacingAndGlyphs" fill="#000">50</text>
<text x="1922.86" y="482.76" font-size="53.57" fill="#000">5.50</text>
<text x="1922.86" y="568.16" font-size="53.71" fill="#000">5.25</text>
<text x="1922.86" y="652.06" font-size="53.57" fill="#000">5.00</text>
<text x="1923.8" y="740.17" font-size="52.62" fill="#000">4.75</text>
<text x="1923.81" y="822.76" font-size="53.71" textLength="103.26" lengthAdjust="spacingAndGlyphs" fill="#000">4.50</text>
<text x="1923.8" y="909.56" font-size="53.57" fill="#000">4.25</text>
<text x="1902.32" y="1324.24" font-size="45.94" textLength="52.98" lengthAdjust="spacingAndGlyphs" fill="#000">20</text>
<text x="1902.8" y="1377.04" font-size="45.94" textLength="65.99" lengthAdjust="spacingAndGlyphs" fill="#000">0.0</text>
<text x="1902.55" y="1436.15" font-size="45.23" textLength="68.95" lengthAdjust="spacingAndGlyphs" fill="#000">-20</text>
<text x="1902.55" y="1486.75" font-size="44.81" textLength="68.95" lengthAdjust="spacingAndGlyphs" fill="#000">-40</text>
<text x="1902.55" y="1538.24" font-size="46.22" textLength="68.95" lengthAdjust="spacingAndGlyphs" fill="#000">-60</text>
<text x="1902.55" y="1592.34" font-size="45.94" textLength="68.95" lengthAdjust="spacingAndGlyphs" fill="#000">-80</text>
<text x="1902.57" y="1647.92" font-size="47.92" textLength="94.67" lengthAdjust="spacingAndGlyphs" fill="#000">-100</text>
<text x="1902.57" y="1699.32" font-size="47.77" fill="#000">-120</text>
<text x="1902.57" y="1752.12" font-size="47.77" fill="#000">-140</text>
<text x="86.3" y="1812.77" font-size="52.72" textLength="89.06" lengthAdjust="spacingAndGlyphs" fill="#000">130</text>
<text x="257.35" y="1812.77" font-size="52.72" textLength="90.13" lengthAdjust="spacingAndGlyphs" fill="#000">100</text>
<text x="538.83" y="1812.77" font-size="52.72" textLength="60.33" lengthAdjust="spacingAndGlyphs" fill="#000">50</text>
<text x="828.85" y="1812.77" font-size="52.72" textLength="29.93" lengthAdjust="spacingAndGlyphs" fill="#000">0</text>
<text x="1077.85" y="1812.77" font-size="52.72" textLength="59.9" lengthAdjust="spacingAndGlyphs" fill="#000">50</text>
<text x="1322.66" y="1812.77" font-size="52.72" textLength="89.92" lengthAdjust="spacingAndGlyphs" fill="#000">100</text>
<text x="1583.68" y="1812.77" font-size="52.72" fill="#000">150</text>
<text x="1845.89" y="1812.77" font-size="52.72" textLength="90.5" lengthAdjust="spacingAndGlyphs" fill="#000">200</text>
<text x="890.34" y="1768.23" font-size="27.14" textLength="30.55" lengthAdjust="spacingAndGlyphs" fill="#1a1a1a">10</text>
<text x="934.11" y="1768.23" font-size="27.14" textLength="33.07" lengthAdjust="spacingAndGlyphs" fill="#1a1a1a">20</text>
<text x="983.59" y="1768.23" font-size="27.14" textLength="32.99" lengthAdjust="spacingAndGlyphs" fill="#1a1a1a">30</text>
<text x="1039.15" y="1768.23" font-size="27.14" textLength="32.1" lengthAdjust="spacingAndGlyphs" fill="#1a1a1a">40</text>
<text x="1144.02" y="1768.23" font-size="27.14" textLength="30.79" lengthAdjust="spacingAndGlyphs" fill="#1a1a1a">60</text>
<text x="1191.54" y="1768.23" font-size="27.14" textLength="32.42" lengthAdjust="spacingAndGlyphs" fill="#1a1a1a">70</text>
<text x="1247.75" y="1768.23" font-size="27.14" textLength="32.72" lengthAdjust="spacingAndGlyphs" fill="#1a1a1a">80</text>
<text x="1303.19" y="1768.23" font-size="27.14" textLength="32.99" lengthAdjust="spacingAndGlyphs" fill="#1a1a1a">90</text>
<text x="1400.82" y="1768.23" font-size="27.14" textLength="44.27" lengthAdjust="spacingAndGlyphs" fill="#1a1a1a">110</text>
<text x="1454.09" y="1768.23" font-size="27.14" textLength="47" lengthAdjust="spacingAndGlyphs" fill="#1a1a1a">120</text>
<text x="1509.29" y="1768.23" font-size="27.14" textLength="47" lengthAdjust="spacingAndGlyphs" fill="#1a1a1a">130</text>
<text x="1566.49" y="1768.23" font-size="27.14" textLength="47" lengthAdjust="spacingAndGlyphs" fill="#1a1a1a">140</text>
<text x="1661.69" y="1768.23" font-size="27.14" textLength="47" lengthAdjust="spacingAndGlyphs" fill="#1a1a1a">160</text>
<text x="1716.88" y="1768.23" font-size="27.14" textLength="47.1" lengthAdjust="spacingAndGlyphs" fill="#1a1a1a">170</text>
<text x="1774.14" y="1768.23" font-size="27.14" textLength="45.82" lengthAdjust="spacingAndGlyphs" fill="#1a1a1a">180</text>
<text x="1827.33" y="1768.23" font-size="27.14" textLength="48.29" lengthAdjust="spacingAndGlyphs" fill="#1a1a1a">190</text>
<text x="780.84" y="1768.1" font-size="27.35" textLength="98.41" lengthAdjust="spacingAndGlyphs" fill="#1a1a1a">Present</text>
<text x="187.6" y="450.8" font-size="60.51" textLength="303.54" lengthAdjust="spacingAndGlyphs" fill="#000">Eccentricity</text>
<text x="187.48" y="865.5" font-size="57.16" textLength="414.39" lengthAdjust="spacingAndGlyphs" fill="#000">Insolation (W/m</text>
<text x="601" y="823" font-size="9" fill="#000">2</text>
<text x="621.3" y="865.5" font-size="57.16" textLength="17.97" lengthAdjust="spacingAndGlyphs" fill="#000">)</text>
<text x="187.51" y="1291.9" font-size="58.62" textLength="287.05" lengthAdjust="spacingAndGlyphs" fill="#000">Ice volume</text>
<text x="507.12" y="1291.9" font-size="58.62" fill="#000">(10</text>
<text x="594" y="1248" font-size="9" fill="#000">3</text>
<text x="626.16" y="1291.9" font-size="58.62" textLength="79.87" lengthAdjust="spacingAndGlyphs" fill="#000">km</text>
<text x="708.5" y="1248" font-size="9" fill="#000">3</text>
<text x="726.23" y="1291.9" font-size="58.62" textLength="16.34" lengthAdjust="spacingAndGlyphs" fill="#000">)</text>
<text x="186.67" y="1679.7" font-size="52.07" textLength="680.85" lengthAdjust="spacingAndGlyphs" fill="#000">Eustatic Sea level fluctuations</text>
<text x="402.76" y="1466" font-size="43.93" textLength="335.38" lengthAdjust="spacingAndGlyphs" fill="#000" font-style="italic">Shackleton (2000)</text>
<text x="891.05" y="1865.4" font-size="59.35" textLength="251.16" lengthAdjust="spacingAndGlyphs" fill="#000">Time (ka)</text>
<text x="0" y="0" font-size="43.49" transform="translate(2038.2,1725.85) rotate(-90)" textLength="151.25" lengthAdjust="spacingAndGlyphs" fill="#000">Relative</text>
<text x="0" y="0" font-size="43.49" transform="translate(2038.2,1563.4) rotate(-90)" textLength="64.7" lengthAdjust="spacingAndGlyphs" fill="#000">sea</text>
<text x="0" y="0" font-size="43.49" transform="translate(2038.2,1485.88) rotate(-90)" textLength="87.72" lengthAdjust="spacingAndGlyphs" fill="#000">level</text>
<text x="0" y="0" font-size="43.49" transform="translate(2038.2,1386.7) rotate(-90)" fill="#000">(m)</text>
<text x="0" y="0" font-size="53.53" transform="translate(886.8,1359.59) rotate(-90)" textLength="20.7" lengthAdjust="spacingAndGlyphs" fill="#8a8a8a" stroke="#8a8a8a" stroke-width="1.4">1</text>
<text x="0" y="0" font-size="52.76" transform="translate(996.4,1736.49) rotate(-90)" textLength="29.95" lengthAdjust="spacingAndGlyphs" fill="#8a8a8a" stroke="#8a8a8a" stroke-width="1.4">2</text>
<text x="0" y="0" font-size="55.83" transform="translate(1100.94,1468.33) rotate(-90)" textLength="28.57" lengthAdjust="spacingAndGlyphs" fill="#8a8a8a" stroke="#8a8a8a" stroke-width="1.4">3</text>
<text x="0" y="0" font-size="55.56" transform="translate(1184.7,1675.02) rotate(-90)" textLength="30.07" lengthAdjust="spacingAndGlyphs" fill="#8a8a8a" stroke="#8a8a8a" stroke-width="1.4">4</text>
<text x="0" y="0" font-size="54.91" transform="translate(1252.45,1389.23) rotate(-90)" textLength="66.92" lengthAdjust="spacingAndGlyphs" fill="#8a8a8a" stroke="#8a8a8a" stroke-width="1.4">5.1</text>
<text x="0" y="0" font-size="53.71" transform="translate(1385.86,1393.41) rotate(-90)" textLength="73.36" lengthAdjust="spacingAndGlyphs" fill="#8a8a8a" stroke="#8a8a8a" stroke-width="1.4">5.3</text>
<text x="0" y="0" font-size="56.06" transform="translate(1577.34,1395.64) rotate(-90)" textLength="70.78" lengthAdjust="spacingAndGlyphs" fill="#8a8a8a" stroke="#8a8a8a" stroke-width="1.4">5.5</text>
<text x="0" y="0" font-size="53.71" transform="translate(1602.06,1688.66) rotate(-90)" fill="#8a8a8a" stroke="#8a8a8a" stroke-width="1.4">6.3</text>
<text x="0" y="0" font-size="53.14" transform="translate(1775.97,1403.42) rotate(-90)" textLength="75.61" lengthAdjust="spacingAndGlyphs" fill="#8a8a8a" stroke="#8a8a8a" stroke-width="1.4">6.5</text>
<text x="0" y="0" font-size="54.84" transform="translate(1877.9,1391.42) rotate(-90)" textLength="67.22" lengthAdjust="spacingAndGlyphs" fill="#8a8a8a" stroke="#8a8a8a" stroke-width="1.4">7.1</text>
</svg></body></html>
